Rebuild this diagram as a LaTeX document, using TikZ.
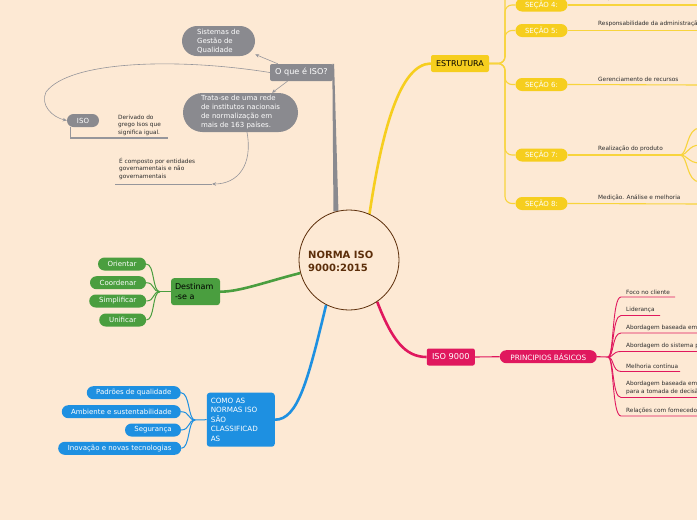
\documentclass[tikz,border=0pt]{standalone}
\usepackage{fontspec}
\setmainfont{DejaVu Sans}
\usetikzlibrary{arrows.meta}
\definecolor{bgc}{RGB}{253,233,212}
\definecolor{grayc}{RGB}{138,138,143}
\definecolor{grayl}{RGB}{150,150,155}
\definecolor{yelc}{RGB}{246,206,30}
\definecolor{yell}{RGB}{248,212,60}
\definecolor{grnc}{RGB}{74,158,63}
\definecolor{bluc}{RGB}{30,144,225}
\definecolor{pnkc}{RGB}{224,24,94}
\definecolor{brownc}{RGB}{92,46,10}
\definecolor{txtc}{RGB}{45,45,45}
\pgfdeclarelayer{bglayer}
\pgfdeclarelayer{lines}
\pgfsetlayers{bglayer,lines,main}
\begin{document}
\begin{tikzpicture}[x=1pt,y=-1pt,
  pill/.style={rounded corners=6.5pt, minimum height=13pt, inner sep=0pt, text=white, font=\fontsize{7}{9}\selectfont},
  boxn/.style={rounded corners=2pt, inner sep=0pt},
  small/.style={inner sep=0pt, text=txtc, align=left, font=\fontsize{5.8}{7.7}\selectfont},
  garrow/.style={draw=grayl, line width=0.6pt, -{Stealth[length=4pt,width=3.5pt]}},
  yline/.style={draw=yell, line width=1.1pt},
  gline/.style={draw=grnc, line width=1pt},
  bline/.style={draw=bluc, line width=1pt},
  pline/.style={draw=pnkc, line width=0.9pt},
]
\clip (0,0) rectangle (697,520);
\begin{pgfonlayer}{bglayer}
\fill[bgc] (0,0) rectangle (697,520);
\end{pgfonlayer}

% central
\node[circle, draw=brownc, line width=0.8pt, minimum size=100pt, inner sep=0pt] (circ) at (349,260) {};
\node[anchor=west, inner sep=0pt, align=left, text=brownc, font=\bfseries\fontsize{10}{13}\selectfont] (title) at (308,261) {NORMA ISO\\9000:2015};

% gray part
\node[boxn, fill=grayc, minimum width=63pt, minimum height=17pt, text=white, font=\fontsize{8.1}{10}\selectfont] (q) at (301.5,72.5) {O que é ISO?};
\node[pill, fill=grayc, rounded corners=15pt, minimum width=73pt, minimum height=30pt, align=left] (sgq) at (218.5,41) {Sistemas de\\Gestão de\\Qualidade};
\node[pill, fill=grayc, rounded corners=19.5pt, minimum width=115pt, minimum height=39pt, align=left] (trata) at (240.5,112.5) {Trata-se de uma rede\\de institutos nacionais\\de normalização em\\mais de 163 países.};
\node[pill, fill=grayc, minimum width=32pt] (iso) at (83,120.5) {ISO};
\node[small, anchor=north west] (deriv) at (118,114.5) {Derivado do\\grego Isos que\\significa igual.};
\node[small, anchor=north west] (comp) at (119,157.5) {É composto por entidades\\governamentais e não\\governamentais};
\coordinate (isoend) at (168,138);
\coordinate (compstart) at (115,184);
\coordinate (compend) at (212,184);

% yellow part
\node[boxn, fill=yelc, minimum width=58pt, minimum height=17pt, font=\fontsize{8}{10}\selectfont] (estr) at (460,63.5) {ESTRUTURA};
\node[pill, fill=yelc, minimum width=52pt] (s4) at (541.5,5) {SEÇÃO 4:};
\node[pill, fill=yelc, minimum width=52pt] (s5) at (541.5,30.5) {SEÇÃO 5:};
\node[pill, fill=yelc, minimum width=52pt] (s6) at (541.5,84.5) {SEÇÃO 6:};
\node[pill, fill=yelc, minimum width=52pt] (s7) at (541.5,155) {SEÇÃO 7:};
\node[pill, fill=yelc, minimum width=52pt] (s8) at (541.5,203.5) {SEÇÃO 8:};
\coordinate (e4) at (700,5);
\coordinate (e5) at (700,30.5);
\coordinate (e6) at (700,85);
\coordinate (br7) at (680,155);
\coordinate (e8) at (700,204);
\coordinate (ytop) at (505,-20);
\node[small, anchor=south west] (t4) at (598,1) {Requisitos do sistema};
\node[small, anchor=south west] (t5) at (598,27) {Responsabilidade da administração};
\node[small, anchor=south west] (t6) at (598,81.5) {Gerenciamento de recursos};
\node[small, anchor=south west] (t7) at (598,151.5) {Realização do produto};
\node[small, anchor=south west] (t8) at (598,200.5) {Medição. Análise e melhoria};
\coordinate (r1) at (700,128);
\coordinate (r2) at (700,145);
\coordinate (r3) at (700,163);
\coordinate (r4) at (700,182);

% green part
\node[boxn, fill=grnc, rounded corners=3pt, minimum width=49pt, minimum height=27pt, inner xsep=4pt, text width=41pt, align=left, font=\fontsize{8}{10}\selectfont] (dest) at (195.5,291.7) {Destinam\\-se a};
\node[pill, fill=grnc, minimum width=48pt] (g1) at (122,264) {Orientar};
\node[pill, fill=grnc, minimum width=56pt] (g2) at (118,282.7) {Coordenar};
\node[pill, fill=grnc, minimum width=57pt] (g3) at (117.7,301) {Simplificar};
\node[pill, fill=grnc, minimum width=47pt] (g4) at (122.7,320) {Unificar};
\coordinate (gb) at (160,291.7);

% blue part
\node[boxn, fill=bluc, rounded corners=3pt, minimum width=68pt, minimum height=54pt, inner xsep=4pt, text width=60pt, align=left, text=white, font=\fontsize{7.2}{9.6}\selectfont] (como) at (240.8,419.7) {COMO AS\\NORMAS ISO\\SÃO\\CLASSIFICAD\\AS};
\node[pill, fill=bluc, minimum width=94pt] (b1) at (133.8,392.7) {Padrões de qualidade};
\node[pill, fill=bluc, minimum width=119pt] (b2) at (121.3,411.7) {Ambiente e sustentabilidade};
\node[pill, fill=bluc, minimum width=56pt] (b3) at (153,430) {Segurança};
\node[pill, fill=bluc, minimum width=123pt] (b4) at (119.7,448.3) {Inovação e novas tecnologias};
\coordinate (bb) at (195,420);

% pink part
\node[boxn, fill=pnkc, minimum width=48pt, minimum height=17pt, text=white, font=\fontsize{8.2}{10}\selectfont] (iso9) at (450.8,357) {ISO 9000};
\node[pill, fill=pnkc, minimum width=97pt, font=\fontsize{7.3}{9}\selectfont] (pb) at (548.3,356.7) {PRINCIPIOS BÁSICOS};
\coordinate (pbr) at (608,357);
\coordinate (u1) at (621,297);   \coordinate (v1) at (675,297);
\coordinate (u2) at (621,315.5); \coordinate (v2) at (660,315.5);
\coordinate (u3) at (621,333);   \coordinate (v3) at (700,333);
\coordinate (u4) at (621,351.5); \coordinate (v4) at (700,351.5);
\coordinate (u5) at (621,371.5); \coordinate (v5) at (680,371.5);
\coordinate (u6) at (621,397.5); \coordinate (v6) at (700,397.5);
\coordinate (u7) at (621,416);   \coordinate (v7) at (700,416);
\node[small, anchor=south west] (p1) at (626,294.5) {Foco no cliente};
\node[small, anchor=south west] (p2) at (626,313) {Liderança};
\node[small, anchor=south west] (p3) at (626,330.5) {Abordagem baseada em processos};
\node[small, anchor=south west] (p4) at (626,349) {Abordagem do sistema para a gestão};
\node[small, anchor=south west] (p5) at (626,369) {Melhoria contínua};
\node[small, anchor=south west] (p6) at (626,395) {Abordagem baseada em fatos\\para a tomada de decisão};
\node[small, anchor=south west] (p7) at (626,413.5) {Relações com fornecedores};

\begin{pgfonlayer}{lines}
% gray connectors
\fill[grayc] ([xshift=-2.5pt]circ.105) -- ([xshift=2.5pt]circ.105) -- ([xshift=0.9pt]q.north east) -- ([xshift=-0.9pt]q.north east) -- cycle;
\draw[garrow] ([xshift=8pt]q.north west) -- (sgq.-20);
\draw[garrow] ([xshift=-14pt]q.south) -- (trata.32);
\draw[garrow] (q.west) .. controls (180,58) and (70,60) .. (46,92) .. controls (40,105) and (52,117) .. (iso.west);
\draw[draw=grayl, line width=1.1pt] ([xshift=4pt]iso.south west) |- (isoend);
\draw[draw=grayl, line width=1pt] (compstart) -- (compend);
\draw[garrow] ([xshift=6.5pt]trata.south) .. controls (253,165) and (238,184) .. (compend);

% yellow connectors
\draw[draw=yelc, line width=2.6pt] (circ.66) .. controls (382,130) and (400,64) .. (estr.west);
\draw[yline, rounded corners=7pt] (estr.east) -- (505,63.5) -- (ytop);
\draw[yline, rounded corners=7pt] (estr.east) -- (505,63.5) -- (505,5) -- (s4.west);
\draw[yline, rounded corners=7pt] (estr.east) -- (505,63.5) -- (505,30.5) -- (s5.west);
\draw[yline, rounded corners=7pt] (estr.east) -- (505,63.5) -- (505,84.5) -- (s6.west);
\draw[yline, rounded corners=7pt] (estr.east) -- (505,63.5) -- (505,155) -- (s7.west);
\draw[yline, rounded corners=7pt] (estr.east) -- (505,63.5) -- (505,203.5) -- (s8.west);
\draw[yline] (s4.east) -- (e4);
\draw[yline] (s5.east) -- (e5);
\draw[yline] (s6.east) -- (e6);
\draw[yline] (s7.east) -- (br7);
\draw[yline] (s8.east) -- (e8);
\draw[yline] (br7) .. controls (688,155) and (686,128) .. (r1);
\draw[yline] (br7) .. controls (688,155) and (688,145) .. (r2);
\draw[yline] (br7) .. controls (688,155) and (688,163) .. (r3);
\draw[yline] (br7) .. controls (688,155) and (686,182) .. (r4);

% green connectors
\draw[draw=grnc, line width=2.6pt] (circ.195) .. controls (265,282) and (240,291.7) .. (dest.east);
\draw[gline] (dest.west) -- (gb);
\foreach \n/\yy in {g1/264,g2/282.7,g3/301,g4/320}{
  \draw[gline] (gb) .. controls (152,291.7) and (155,\yy) .. (\n.east);
}

% blue connectors
\draw[draw=bluc, line width=2.6pt] (circ.243) .. controls (308,380) and (298,419.7) .. (como.east);
\draw[bline] (como.west) -- (bb);
\foreach \n/\yy in {b1/392.7,b2/411.7,b3/430,b4/448.3}{
  \draw[bline] (bb) .. controls (188,420) and (190,\yy) .. (\n.east);
}

% pink connectors
\draw[draw=pnkc, line width=2.6pt] (circ.-56) .. controls (392,340) and (405,357) .. (iso9.west);
\draw[pline, line width=1.1pt] (iso9.east) -- (pb.west);
\draw[pline, line width=1.1pt] (pb.east) -- (pbr);
\foreach \i/\yy in {1/297,2/315.5,3/333,4/351.5,5/371.5,6/397.5,7/416}{
  \draw[pline] (pbr) .. controls (614,357) and (612,\yy) .. (u\i) -- (v\i);
}
\end{pgfonlayer}
\end{tikzpicture}
\end{document}
